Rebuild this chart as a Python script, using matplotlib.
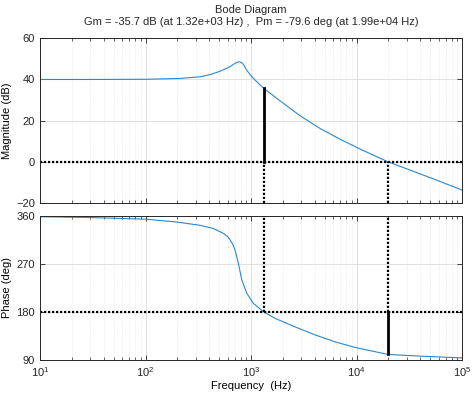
#!/usr/bin/env python3
"""
Bode diagram with gain/phase margin markers (MATLAB margin() look).
"""

import numpy as np
import matplotlib
matplotlib.use("Agg")
import matplotlib.pyplot as plt
from matplotlib.ticker import LogLocator, FixedLocator, NullFormatter

plt.rcParams['font.family'] = ['Liberation Sans', 'DejaVu Sans']
plt.rcParams['mathtext.fontset'] = 'custom'
plt.rcParams['mathtext.rm'] = 'Liberation Sans'

# magnitude response
MAG_FREQ = [10, 30, 100, 150, 212, 329, 420, 508, 580, 631, 690, 731, 774,
            810, 850, 911, 1000, 1132, 1320, 1820, 2912, 4508, 6980, 10800,
            19900, 34560, 57500, 100000]
MAG_DB = [40.0, 40.0, 40.1, 40.3, 40.5, 41.3, 42.5, 44.0, 45.3, 46.2, 47.5, 48.3, 48.6,
          48.3, 47.2, 44.5, 41.8, 38.9, 35.7, 30.2, 22.4, 16.2, 11.0, 6.2,
          0.0, -4.6, -8.9, -13.7]

# phase response
PH_FREQ = [10, 30, 100, 200, 329, 440, 546, 600, 631, 670, 705, 759, 817, 911, 1052,
           1320, 1687, 2612, 4044, 6253, 9680, 19900, 42700, 100000]
PH_DEG = [358, 356.5, 353.5, 348, 342, 336, 327, 321, 315, 307, 296, 271, 240, 215, 196,
          180, 168, 152, 137, 124, 113.5, 100.4, 97, 94]

# margins
GM_DB = -35.7
GM_FREQ = 1.32e3
PM_DEG = -79.6
PM_FREQ = 1.99e4

MAG_TICKS = [-20, 0, 20, 40, 60]
PH_TICKS = [90, 180, 270, 360]

TITLE = "Bode Diagram"
SUBTITLE = "Gm = -35.7 dB (at 1.32e+03 Hz) ,  Pm = -79.6 deg (at 1.99e+04 Hz)"

LINE_COLOR = '#2a87d0'
DOT = (0, (1, 0.8))


def style_axes(ax):
    ax.set_xscale('log')
    ax.set_xlim(10, 1e5)
    ax.xaxis.set_major_locator(LogLocator(base=10, numticks=10))
    ax.xaxis.set_minor_locator(LogLocator(base=10, subs=np.arange(2, 10), numticks=10))
    ax.xaxis.set_minor_formatter(NullFormatter())
    ax.tick_params(which='both', direction='in', top=True, right=True,
                   labelsize=8, colors='#262626')
    ax.tick_params(which='major', length=3.5, width=0.6)
    ax.tick_params(which='minor', length=2, width=0.5)
    ax.grid(True, which='major', color='#dcdcdc', linewidth=0.6)
    ax.grid(True, which='minor', axis='x', color='#e4e4e4', linewidth=0.6, linestyle=(0, (1, 1.5)))
    for sp in ax.spines.values():
        sp.set_linewidth(0.7)
        sp.set_color('#262626')
    ax.set_axisbelow(True)


def main():
    fig = plt.figure(figsize=(4.74, 3.94), dpi=100)
    ax_m = fig.add_axes([0.0844, 0.4848, 0.8903, 0.418])
    ax_p = fig.add_axes([0.0844, 0.0863, 0.8903, 0.3663])

    # magnitude
    style_axes(ax_m)
    ax_m.plot(MAG_FREQ, MAG_DB, color=LINE_COLOR, linewidth=0.8)
    ax_m.set_ylim(-20, 60)
    ax_m.yaxis.set_major_locator(FixedLocator(MAG_TICKS))
    ax_m.xaxis.set_major_formatter(NullFormatter())
    ax_m.axhline(0, color='black', linewidth=1.6, linestyle=DOT)
    ax_m.plot([GM_FREQ, GM_FREQ], [0, -GM_DB], color='black', linewidth=2)
    ax_m.plot([GM_FREQ, GM_FREQ], [-20, 0], color='black', linewidth=1.6, linestyle=DOT)
    ax_m.plot([PM_FREQ, PM_FREQ], [-20, 0], color='black', linewidth=1.6, linestyle=DOT)
    ax_m.set_ylabel("Magnitude (dB)", fontsize=8, labelpad=3)

    # phase
    style_axes(ax_p)
    ax_p.plot(PH_FREQ, PH_DEG, color=LINE_COLOR, linewidth=0.8)
    ax_p.set_ylim(90, 360)
    ax_p.yaxis.set_major_locator(FixedLocator(PH_TICKS))
    ax_p.axhline(180, color='black', linewidth=1.6, linestyle=DOT)
    ax_p.plot([GM_FREQ, GM_FREQ], [180, 360], color='black', linewidth=1.6, linestyle=DOT)
    ax_p.plot([PM_FREQ, PM_FREQ], [180, 360], color='black', linewidth=1.6, linestyle=DOT)
    ax_p.plot([PM_FREQ, PM_FREQ], [180 + PM_DEG, 180], color='black', linewidth=2)
    ax_p.set_ylabel("Phase (deg)", fontsize=8, labelpad=3)
    ax_p.set_xlabel("Frequency  (Hz)", fontsize=8, labelpad=2)

    fig.text(0.53, 0.974, TITLE, ha='center', va='center', fontsize=8, color='#262626')
    fig.text(0.53, 0.944, SUBTITLE, ha='center', va='center', fontsize=8, color='#262626')

    fig.savefig("out.png", dpi=100)


if __name__ == "__main__":
    main()
